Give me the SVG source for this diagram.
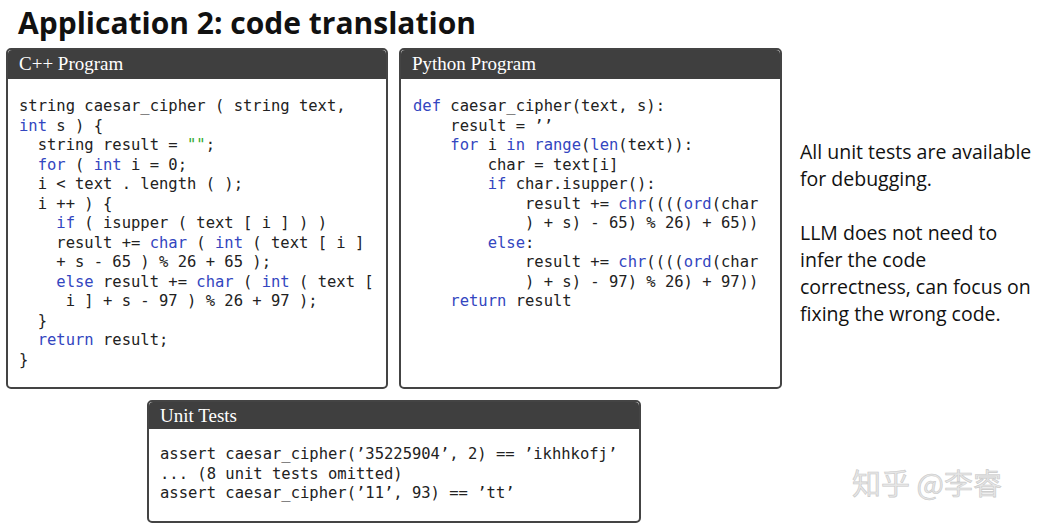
<svg xmlns="http://www.w3.org/2000/svg" width="1043" height="528" viewBox="0 0 1043 528">
<style>
.box{fill:#fff;stroke:#444;stroke-width:2}
.hd{fill:#3f3f3f}
.ht{font-family:"Liberation Serif",serif;font-size:19px;fill:#fff}
.c{font-family:"DejaVu Sans Mono",monospace;font-size:15.5px;fill:#222;white-space:pre}
.k{fill:#3346c0}
.s{fill:#2eaa2e}
.r{font-family:"Open Sans","Noto Sans",sans-serif;font-size:19.5px;fill:#111}
</style>
<rect width="1043" height="528" fill="#fff"/>
<text x="18" y="34" font-family="Open Sans,Noto Sans,sans-serif" font-weight="bold" font-size="30" fill="#111">Application 2: code translation</text>
<g id="cpp">
<rect class="box" x="7" y="49" width="380" height="339" rx="4"/>
<path class="hd" d="M8 79V54a4 4 0 0 1 4-4h370a4 4 0 0 1 4 4v25z"/>
<text class="ht" x="19" y="70">C++ Program</text>
<text class="c" xml:space="preserve"><tspan x="19" y="111">string caesar_cipher ( string text,</tspan><tspan x="19" y="131"><tspan class="k">int</tspan> s ) {</tspan><tspan x="19" y="150">  string result = <tspan class="s">""</tspan>;</tspan><tspan x="19" y="170">  <tspan class="k">for</tspan> ( <tspan class="k">int</tspan> i = 0;</tspan><tspan x="19" y="189">  i &lt; text . length ( );</tspan><tspan x="19" y="209">  i ++ ) {</tspan><tspan x="19" y="228">    <tspan class="k">if</tspan> ( isupper ( text [ i ] ) )</tspan><tspan x="19" y="248">    result += <tspan class="k">char</tspan> ( <tspan class="k">int</tspan> ( text [ i ]</tspan><tspan x="19" y="267">    + s - 65 ) % 26 + 65 );</tspan><tspan x="19" y="287">    <tspan class="k">else</tspan> result += <tspan class="k">char</tspan> ( <tspan class="k">int</tspan> ( text [</tspan><tspan x="19" y="306">     i ] + s - 97 ) % 26 + 97 );</tspan><tspan x="19" y="326">  }</tspan><tspan x="19" y="345">  <tspan class="k">return</tspan> result;</tspan><tspan x="19" y="365">}</tspan></text>
</g>
<g id="python">
<rect class="box" x="400" y="49" width="381" height="339" rx="4"/>
<path class="hd" d="M401 79V54a4 4 0 0 1 4-4h371a4 4 0 0 1 4 4v25z"/>
<text class="ht" x="412" y="70">Python Program</text>
<text class="c" xml:space="preserve"><tspan x="413" y="111"><tspan class="k">def</tspan> caesar_cipher(text, s):</tspan><tspan x="413" y="131">    result = ’’</tspan><tspan x="413" y="150">    <tspan class="k">for</tspan> i <tspan class="k">in</tspan> <tspan class="k">range</tspan>(<tspan class="k">len</tspan>(text)):</tspan><tspan x="413" y="170">        char = text[i]</tspan><tspan x="413" y="189">        <tspan class="k">if</tspan> char.isupper():</tspan><tspan x="413" y="209">            result += <tspan class="k">chr</tspan>((((<tspan class="k">ord</tspan>(char</tspan><tspan x="413" y="228">            ) + s) - 65) % 26) + 65))</tspan><tspan x="413" y="248">        <tspan class="k">else</tspan>:</tspan><tspan x="413" y="267">            result += <tspan class="k">chr</tspan>((((<tspan class="k">ord</tspan>(char</tspan><tspan x="413" y="287">            ) + s) - 97) % 26) + 97))</tspan><tspan x="413" y="306">    <tspan class="k">return</tspan> result</tspan></text>
</g>
<g id="tests">
<rect class="box" x="148" y="401" width="492" height="121" rx="4"/>
<path class="hd" d="M149 429V406a4 4 0 0 1 4-4h482a4 4 0 0 1 4 4v23z"/>
<text class="ht" x="160" y="422">Unit Tests</text>
<text class="c" xml:space="preserve"><tspan x="160" y="459">assert caesar_cipher(’35225904’, 2) == ’ikhhkofj’</tspan><tspan x="160" y="479">... (8 unit tests omitted)</tspan><tspan x="160" y="498">assert caesar_cipher(’11’, 93) == ’tt’</tspan></text>
</g>
<g id="note">
<text class="r"><tspan x="800" y="159">All unit tests are available</tspan><tspan x="800" y="186">for debugging.</tspan><tspan x="800" y="240">LLM does not need to</tspan><tspan x="800" y="267">infer the code</tspan><tspan x="800" y="294">correctness, can focus on</tspan><tspan x="800" y="321">fixing the wrong code.</tspan></text>
</g>
<g id="connectors"/>
<text x="852" y="495" font-family="Noto Sans CJK SC,sans-serif" font-size="29" fill="#e6e6e6" stroke="#c8c8c8" stroke-width="0.6">知乎 @李睿</text>
</svg>
